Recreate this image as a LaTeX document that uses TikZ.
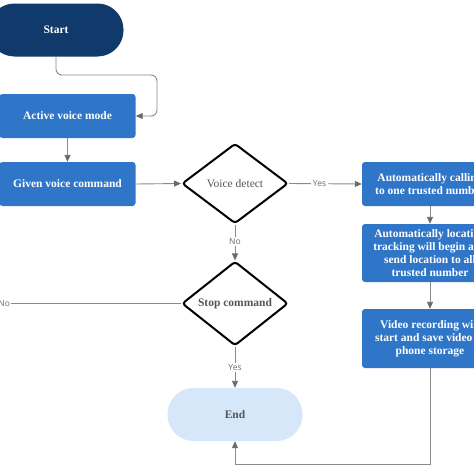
\documentclass[tikz,border=0pt]{standalone}
\usepackage{fontspec}
\setmainfont{Liberation Serif}
\newfontfamily\lblfont{Open Sans}
\usetikzlibrary{shapes.geometric,arrows.meta}
\definecolor{navy}{HTML}{0F3A6B}
\definecolor{boxblue}{HTML}{2F75C8}
\definecolor{endblue}{HTML}{D6E7FA}
\definecolor{linegray}{HTML}{8A8A8A}
\definecolor{tipgray}{HTML}{6A6A6A}
\definecolor{txtgray}{HTML}{555555}
\tikzset{
  pill/.style={rounded corners=26pt, minimum width=135pt, minimum height=53pt, font=\bfseries\fontsize{11.5}{13}\selectfont},
  bluebox/.style={fill=boxblue, rounded corners=3pt, text=white, align=center, minimum width=136pt, font=\bfseries\fontsize{11.5}{13.2}\selectfont, inner sep=2pt},
  decision/.style={diamond, draw=black, line width=2pt, fill=white, rounded corners=3pt, minimum width=106pt, minimum height=80pt, inner sep=0pt, text=txtgray, font=\fontsize{11.5}{13}\selectfont},
  arr/.style={draw=linegray, line width=0.9pt, -{Triangle[length=7pt,width=6pt,fill=tipgray,color=tipgray]}},
  plain/.style={draw=linegray, line width=0.9pt},
  lbl/.style={fill=white, inner sep=1.5pt, text=tipgray, font=\lblfont\fontsize{8.5}{10}\selectfont},
}
\begin{document}
\begin{tikzpicture}[x=1pt,y=-1pt]
\useasboundingbox (0,0) rectangle (474,474);
\clip (0,0) rectangle (474,474);
\fill[white] (0,0) rectangle (474,474);
% nodes
\node[pill, fill=navy, text=white] (start) at (56,30) {Start};
\node[bluebox, minimum height=44pt] (active) at (67.5,116) {Active voice mode};
\node[bluebox, minimum height=44pt] (given) at (67.5,184) {Given voice command};
\node[decision] (detect) at (235,183.5) {Voice detect};
\node[bluebox, minimum height=44pt] (call) at (430,184) {Automatically calling\\to one trusted number};
\node[bluebox, minimum height=58pt] (loc) at (430,253) {Automatically location\\tracking will begin and\\send location to all\\trusted number};
\node[bluebox, minimum height=59pt] (video) at (430,338.5) {Video recording will\\start and save video in\\phone storage};
\node[decision, font=\bfseries\fontsize{11.5}{13}\selectfont] (stop) at (235,303.5) {Stop command};
\node[pill, fill=endblue, text=txtgray] (end) at (235,414.5) {End};
% helper coordinates
\coordinate (k1) at (157,75);
\coordinate (k2) at (430,464);
\coordinate (nol) at (-20,303.5);
% connectors
\draw[arr, rounded corners=6pt] (start.south) |- (k1) |- (active.east);
\draw[arr] (active.south) -- (given.north);
\draw[arr] (given.east) -- (detect.west);
\draw[arr] (detect.east) -- node[lbl, pos=0.42] {Yes} (call.west);
\draw[arr] (call.south) -- (loc.north);
\draw[arr] (loc.south) -- (video.north);
\draw[arr] (detect.south) -- node[lbl, pos=0.48] {No} (stop.north);
\draw[arr] (stop.south) -- node[lbl, pos=0.5] {Yes} (end.north);
\draw[plain] (stop.west) -- node[lbl, pos=0.88] {No} (nol);
\draw[arr] (video.south) -- (k2) -| (end.south);
\end{tikzpicture}
\end{document}
